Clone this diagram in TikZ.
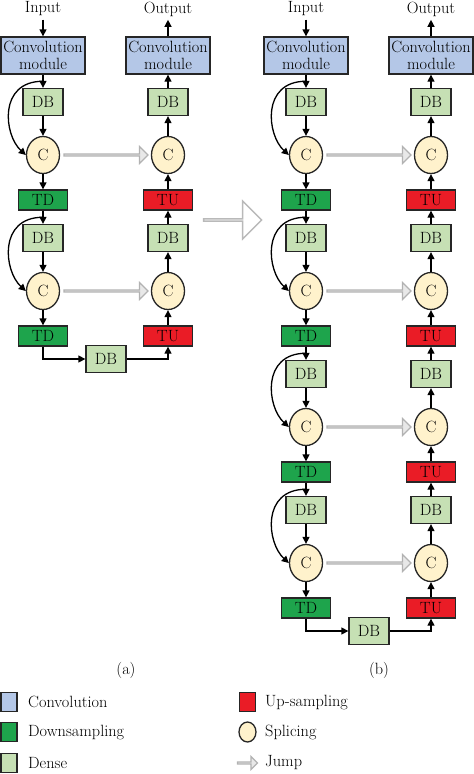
\documentclass[tikz,border=0pt]{standalone}
\usepackage{fontspec}
\usetikzlibrary{arrows.meta,shapes.geometric,shapes.arrows,calc}
\definecolor{convblue}{RGB}{180,199,231}
\definecolor{densegreen}{RGB}{198,224,180}
\definecolor{downgreen}{RGB}{30,164,76}
\definecolor{upred}{RGB}{234,28,38}
\definecolor{spliceyellow}{RGB}{255,242,204}
\tikzset{
	box/.style={draw=black!85, line width=1.3pt, inner sep=0pt},
	conv/.style={box, fill=convblue, minimum width=84pt, minimum height=37pt, align=center},
	dense/.style={box, fill=densegreen, minimum width=40pt, minimum height=27pt},
	down/.style={box, fill=downgreen, minimum width=49pt, minimum height=20pt},
	up/.style={box, fill=upred, minimum width=49pt, minimum height=20pt},
	splice/.style={box, ellipse, fill=spliceyellow, minimum width=33pt, minimum height=37pt},
	jump/.style={single arrow, draw=gray!60, fill=gray!18, line width=1.2pt, inner sep=0pt,
		minimum width=17pt, single arrow head extend=5pt, single arrow tip angle=90, minimum height=84pt},
	link/.style={line width=1.3pt, ->},
}
\begin{document}
\begin{tikzpicture}[x=1pt, y=-1pt, >={Triangle[length=7pt,width=7pt]}, font=\fontsize{16.3}{17}\selectfont]
	\useasboundingbox (0,0) rectangle (474,774);
	% panels (a) and (b)
	\foreach \p/\dx/\n in {a/0/2, b/263/4}
	{
		\begin{scope}[xshift=\dx pt]
			\node (\p-in) at (43,9) {Input};
			\node (\p-out) at (168,9) {Output};
			\node[conv, alias=\p-tdl0] (\p-convl) at (43,55.5) {Convolution\\module};
			\node[conv, alias=\p-tur0] (\p-convr) at (168,55.5) {Convolution\\module};
			\draw[link] (\p-in) -- (\p-convl);
			\draw[link] (\p-convr) -- (\p-out);
			% stages
			\foreach \k in {1,...,\n}
			{
				\pgfmathtruncatemacro\km{\k-1}
				\pgfmathsetmacro\yc{155+136*\km}
				\node[dense] (\p-dbl\k) at (43,\yc-53) {DB};
				\node[splice] (\p-cl\k) at (43,\yc) {C};
				\node[down] (\p-tdl\k) at (43,\yc+45) {TD};
				\node[dense] (\p-dbr\k) at (168,\yc-53) {DB};
				\node[splice] (\p-cr\k) at (168,\yc) {C};
				\node[up] (\p-tur\k) at (168,\yc+45) {TU};
				\node[jump] (\p-jump\k) at ($(\p-cl\k)!.5!(\p-cr\k)$) {};
				\coordinate (\p-split\k) at ($(\p-tdl\km.south)!.5!(\p-dbl\k.north)$);
				\draw[link] (\p-tdl\km) -- (\p-dbl\k);
				\draw[link] (\p-dbl\k) -- (\p-cl\k);
				\draw[link] (\p-cl\k) -- (\p-tdl\k);
				\draw[link] (\p-split\k) .. controls +(-45,0) and +(-22,-20) .. (\p-cl\k.west);
				\draw[link] (\p-tur\k) -- (\p-cr\k);
				\draw[link] (\p-cr\k) -- (\p-dbr\k);
				\draw[link] (\p-dbr\k) -- (\p-tur\km);
			}
			% bottom
			\pgfmathsetmacro\yb{223+136*(\n-1)}
			\node[dense] (\p-bottom) at (106,\yb) {DB};
			\draw[link] (\p-tdl\n) |- (\p-bottom);
			\draw[link] (\p-bottom) -| (\p-tur\n);
		\end{scope}
	}
	\node[jump, draw=gray!55, fill=white, line width=1.4pt, minimum width=38pt, minimum height=58pt,
		single arrow head extend=11pt] (grow) at (232,220) {};
	\node (lab-a) at (126,670) {(a)};
	\node (lab-b) at (379,670) {(b)};
	% legend
	\foreach \y/\sty/\txt in {702/conv/Convolution, 732/down/Downsampling, 763/dense/Dense}
	{
		\node[\sty, minimum width=16pt, minimum height=19pt] (key-\sty) at (9,\y) {};
		\node[anchor=west, inner sep=0pt] (txt-\sty) at (28,\y) {\txt};
	}
	\node[up, minimum width=16pt, minimum height=19pt] (key-up) at (247.5,702) {};
	\node[splice, minimum width=17pt, minimum height=20pt] (key-splice) at (247.5,732) {};
	\node[jump, minimum width=13pt, minimum height=20pt, single arrow head extend=3.5pt] (key-jump) at (247,763) {};
	\foreach \y/\sty/\txt in {702/up/Up-sampling, 732/splice/Splicing, 763/jump/Jump}
		\node[anchor=west, inner sep=0pt] (txt-\sty) at (265,\y) {\txt};
\end{tikzpicture}
\end{document}
